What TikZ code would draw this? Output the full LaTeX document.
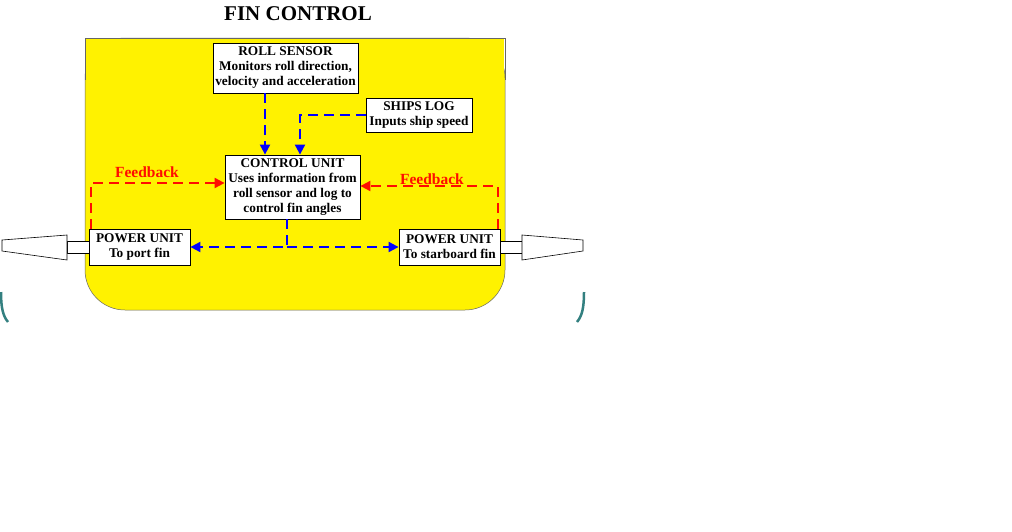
\documentclass[tikz,border=0pt]{standalone}
\usepackage{fontspec}
\setmainfont{Liberation Serif}
\usetikzlibrary{arrows.meta}
\begin{document}
\begin{tikzpicture}[x=1pt,y=-1pt,
  box/.style={draw=black,fill=white,font=\bfseries\fontsize{13.3}{15}\selectfont,align=center,inner sep=0pt,line width=0.8pt},
  blu/.style={draw=blue,line width=2pt,dash pattern=on 10pt off 6pt,-{Triangle[length=10pt,width=10pt]}},
  red/.style={draw=red!90!orange,line width=2pt,dash pattern=on 10pt off 6pt,-{Triangle[length=10pt,width=10pt]}},
  fb/.style={text=red!90!orange,font=\bfseries\fontsize{15.5}{17}\selectfont}]
\useasboundingbox (0,0) rectangle (1012,531);
\fill[white] (0,0) rectangle (1012,531);
\draw[teal!60!gray,line width=2.5pt] (1,292) .. controls (1,308) and (3,316) .. (8,322);
\draw[teal!60!gray,line width=2.5pt] (584,292) .. controls (584,308) and (582,316) .. (577,322);
\node[font=\bfseries\fontsize{21}{24}\selectfont] (title) at (298,14) {FIN CONTROL};
\draw[fill=yellow,draw=black!60,line width=0.5pt,rounded corners=40pt] (85,38) -- (505,38) -- (505,310) -- (85,310) -- cycle;
\fill[yellow] (86,39) rectangle (504,80);
\draw[black!60,line width=0.5pt] (85,38) -- (505,38) (85,38) -- (85,80) (505,38) -- (505,80);
% fins
\draw[fill=white,line width=0.6pt] (67,241) rectangle (89,253);
\draw[fill=white,line width=0.6pt] (67,235) -- (2,240) -- (2,251) -- (67,260) -- cycle;
\draw[fill=white,line width=0.6pt] (500,241) rectangle (522,253);
\draw[fill=white,line width=0.6pt] (522,235) -- (583,240) -- (583,251) -- (522,260) -- cycle;
\node[box,minimum width=145pt,minimum height=50pt] (rs) at (285.5,68) {ROLL SENSOR\\Monitors roll direction,\\velocity and acceleration};
\node[box,minimum width=106pt,minimum height=34pt] (sl) at (419,115) {SHIPS LOG\\Inputs ship speed};
\node[box,minimum width=135pt,minimum height=64pt] (cu) at (292.5,187) {CONTROL UNIT\\Uses information from\\roll sensor and log to\\control fin angles};
\node[box,minimum width=101pt,minimum height=36pt] (pp) at (139.5,247) {POWER UNIT\\To port fin};
\node[box,minimum width=101pt,minimum height=36pt] (ps) at (449.5,247) {POWER UNIT\\To starboard fin};
\coordinate (j) at (287,247);
\draw[blu] (rs.south -| 265,0) -- (cu.north -| 265,0);
\draw[blu] (sl.west) -| (cu.north -| 300,0);
\draw[blu] (cu.south -| j) -- (j) -- (pp.east);
\draw[blu] (j) -- (ps.west);
\draw[red] (pp.north -| 91,0) |- (cu.west |- 0,183);
\draw[red] (ps.north -| 498,0) |- (cu.east |- 0,186);
\node[fb] (f1) at (147,172) {Feedback};
\node[fb] (f2) at (432,179) {Feedback};
\end{tikzpicture}
\end{document}
